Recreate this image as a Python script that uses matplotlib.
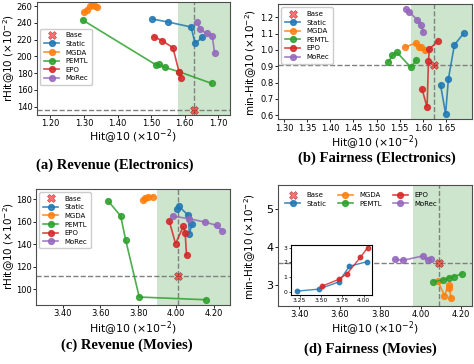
import matplotlib
matplotlib.use("Agg")
import matplotlib.pyplot as plt
from matplotlib.ticker import FormatStrFormatter, FixedLocator

W, H = 474, 364
METHODS = ["Static", "MGDA", "PEMTL", "EPO", "MoRec"]
COLORS = {"Static": "tab:blue", "MGDA": "tab:orange", "PEMTL": "tab:green",
          "EPO": "tab:red", "MoRec": "tab:purple"}

# ---- (a) Revenue (Electronics) ----
A_STATIC_X = [1.504, 1.551, 1.619, 1.631, 1.653]
A_STATIC_Y = [244.5, 240.9, 235.0, 215.5, 222.7]
A_MGDA_X = [1.299, 1.309, 1.319, 1.324, 1.334, 1.339]
A_MGDA_Y = [252.5, 255.3, 260.0, 261.6, 260.4, 259.2]
A_PEMTL_X = [1.296, 1.515, 1.522, 1.541, 1.583, 1.680]
A_PEMTL_Y = [243.3, 189.7, 190.9, 186.9, 181.7, 167.8]
A_EPO_X = [1.508, 1.533, 1.565, 1.583, 1.588]
A_EPO_Y = [223.4, 218.7, 210.3, 181.7, 173.8]
A_MOREC_X = [1.638, 1.646, 1.665, 1.682, 1.689]
A_MOREC_Y = [240.5, 232.2, 227.4, 224.6, 204.4]
A_BASE = (1.628, 136.5)
A_REGION = 1.581

# ---- (b) Fairness (Electronics) ----
B_STATIC_X = [1.638, 1.649, 1.655, 1.668, 1.688]
B_STATIC_Y = [0.787, 0.609, 0.822, 1.030, 1.102]
B_MGDA_X = [1.561, 1.584, 1.591, 1.596, 1.605]
B_MGDA_Y = [1.017, 1.041, 1.020, 1.017, 0.997]
B_PEMTL_X = [1.525, 1.534, 1.544, 1.574, 1.586]
B_PEMTL_Y = [0.924, 0.966, 0.985, 0.893, 0.940]
B_EPO_X = [1.598, 1.609, 1.612, 1.614, 1.633]
B_EPO_Y = [0.761, 0.649, 0.934, 1.005, 1.056]
B_MOREC_X = [1.563, 1.571, 1.588, 1.596, 1.601]
B_MOREC_Y = [1.251, 1.230, 1.184, 1.153, 1.109]
B_BASE = (1.625, 0.905)
B_REGION = 1.574

# ---- (c) Revenue (Movies) ----
C_STATIC_X = [4.004, 4.015, 4.064, 4.070, 4.085]
C_STATIC_Y = [171.7, 173.8, 165.8, 149.5, 158.4]
C_MGDA_X = [3.826, 3.838, 3.850, 3.880]
C_MGDA_Y = [179.5, 181.5, 182.5, 182.5]
C_PEMTL_X = [3.641, 3.707, 3.733, 3.805, 4.158]
C_PEMTL_Y = [178.5, 165.2, 144.1, 93.2, 90.8]
C_EPO_X = [3.964, 3.997, 4.038, 4.048, 4.055]
C_EPO_Y = [160.7, 140.6, 156.0, 150.4, 130.2]
C_MOREC_X = [3.981, 4.068, 4.152, 4.214, 4.244]
C_MOREC_Y = [165.2, 162.8, 159.9, 156.9, 151.9]
C_BASE = (4.008, 111.6)
C_REGION = 3.897

# ---- (d) Fairness (Movies) ----
D_MGDA_X = [4.085, 4.118, 4.138, 4.142, 4.150]
D_MGDA_Y = [3.10, 2.72, 3.00, 2.93, 2.65]
D_PEMTL_X = [4.063, 4.110, 4.142, 4.165, 4.205]
D_PEMTL_Y = [3.09, 3.13, 3.19, 3.22, 3.30]
D_MOREC_X = [3.873, 3.912, 4.011, 4.036, 4.052]
D_MOREC_Y = [3.678, 3.652, 3.767, 3.670, 3.696]
D_BASE = (4.093, 3.58)
D_REGION = 3.963
# inset of (d): Static and EPO sit far below the main range
D_STATIC_X = [3.219, 3.473, 3.707, 3.832, 4.039]
D_STATIC_Y = [0.044, 0.178, 0.667, 1.733, 2.044]
D_EPO_X = [3.512, 3.707, 3.805, 3.961, 4.047]
D_EPO_Y = [0.378, 0.844, 1.222, 2.333, 3.0]

LINE_KW = dict(lw=1.2, ms=4.2, alpha=0.85)


def px_axes(fig, l, r, t, b):
    return fig.add_axes([l / W, 1 - b / H, (r - l) / W, (b - t) / H])


def draw_line(ax, name, x, y):
    ax.plot(x, y, "-o", color=COLORS[name], label=name, **LINE_KW)


def draw_base(ax, base, region):
    ax.axvspan(region, 10, color="green", alpha=0.2, lw=0, zorder=0)
    ax.axvline(base[0], ls="--", color="grey", lw=1.0, zorder=1)
    ax.axhline(base[1], ls="--", color="grey", lw=1.0, zorder=1)
    ax.plot([base[0]], [base[1]], "X", color="red", ms=5.5, alpha=0.55,
            mec="darkred", mew=0.5, ls="none", label="Base", zorder=5)


def style(ax, xlim, ylim, xfmt, yfmt):
    ax.set_xlim(*xlim)
    ax.set_ylim(*ylim)
    ax.xaxis.set_major_formatter(FormatStrFormatter(xfmt))
    ax.yaxis.set_major_formatter(FormatStrFormatter(yfmt))
    ax.tick_params(labelsize=6.0, length=2, width=0.6, pad=1.2)
    for s in ax.spines.values():
        s.set_linewidth(0.8)
        s.set_color("0.3")


def order_legend(ax, **kw):
    h, l = ax.get_legend_handles_labels()
    d = dict(zip(l, h))
    names = ["Base"] + METHODS
    ax.legend([d[n] for n in names], names, fontsize=5.0, handlelength=2.2,
              borderpad=0.5, labelspacing=0.38, handletextpad=0.9,
              framealpha=1.0, **kw)


fig = plt.figure(figsize=(W / 100, H / 100), dpi=100)
xlab = "Hit@10 ($\\times10^{-2}$)"
cap_font = dict(family="Liberation Serif", fontweight="bold", fontsize=10.5,
                ha="center", va="center")
lab_font = dict(fontsize=7.8, ha="center", va="center")
ylab_font = dict(fontsize=7.5, ha="center", va="center", rotation=90)

# (a)
ax = px_axes(fig, 37, 230, 1.5, 115)
draw_base(ax, A_BASE, A_REGION)
draw_line(ax, "Static", A_STATIC_X, A_STATIC_Y)
draw_line(ax, "MGDA", A_MGDA_X, A_MGDA_Y)
draw_line(ax, "PEMTL", A_PEMTL_X, A_PEMTL_Y)
draw_line(ax, "EPO", A_EPO_X, A_EPO_Y)
draw_line(ax, "MoRec", A_MOREC_X, A_MOREC_Y)
style(ax, (1.160, 1.735), (130.1, 265.4), "%.2f", "%d")
ax.xaxis.set_major_locator(FixedLocator([1.2, 1.3, 1.4, 1.5, 1.6, 1.7]))
ax.yaxis.set_major_locator(FixedLocator([140, 160, 180, 200, 220, 240, 260]))
order_legend(ax, loc="upper left", bbox_to_anchor=(0.0, 0.79))
fig.text(133 / W, 1 - 137 / H, xlab, **lab_font)
fig.text(9 / W, 1 - 58 / H, "rHit@10 ($\\times10^{-2}$)", **ylab_font)
fig.text(115 / W, 1 - 165 / H, "(a) Revenue (Electronics)", **cap_font)

# (b)
ax = px_axes(fig, 278, 472, 4, 119.5)
draw_base(ax, B_BASE, B_REGION)
draw_line(ax, "Static", B_STATIC_X, B_STATIC_Y)
draw_line(ax, "MGDA", B_MGDA_X, B_MGDA_Y)
draw_line(ax, "PEMTL", B_PEMTL_X, B_PEMTL_Y)
draw_line(ax, "EPO", B_EPO_X, B_EPO_Y)
draw_line(ax, "MoRec", B_MOREC_X, B_MOREC_Y)
style(ax, (1.287, 1.706), (0.574, 1.281), "%.2f", "%.1f")
ax.xaxis.set_major_locator(FixedLocator([1.30, 1.35, 1.40, 1.45, 1.50, 1.55, 1.60, 1.65]))
ax.yaxis.set_major_locator(FixedLocator([0.6, 0.7, 0.8, 0.9, 1.0, 1.1, 1.2]))
order_legend(ax, loc="upper left")
fig.text(375 / W, 1 - 143 / H, xlab, **lab_font)
fig.text(251 / W, 1 - 62 / H, "min-Hit@10 ($\\times10^{-2}$)", **ylab_font)
fig.text(377 / W, 1 - 158 / H, "(b) Fairness (Electronics)", **cap_font)

# (c)
ax = px_axes(fig, 36, 230, 188.7, 304.7)
draw_base(ax, C_BASE, C_REGION)
draw_line(ax, "Static", C_STATIC_X, C_STATIC_Y)
draw_line(ax, "MGDA", C_MGDA_X, C_MGDA_Y)
draw_line(ax, "PEMTL", C_PEMTL_X, C_PEMTL_Y)
draw_line(ax, "EPO", C_EPO_X, C_EPO_Y)
draw_line(ax, "MoRec", C_MOREC_X, C_MOREC_Y)
style(ax, (3.259, 4.285), (86.4, 189.5), "%.2f", "%d")
ax.xaxis.set_major_locator(FixedLocator([3.4, 3.6, 3.8, 4.0, 4.2]))
ax.yaxis.set_major_locator(FixedLocator([100, 120, 140, 160, 180]))
order_legend(ax, loc="upper left")
fig.text(133 / W, 1 - 329 / H, xlab, **lab_font)
fig.text(9 / W, 1 - 246 / H, "rHit@10 ($\\times10^{-2}$)", **ylab_font)
fig.text(127 / W, 1 - 345 / H, "(c) Revenue (Movies)", **cap_font)

# (d)
ax = px_axes(fig, 278, 472, 185.3, 306)
draw_base(ax, D_BASE, D_REGION)
ax.plot([], [], "-o", color=COLORS["Static"], label="Static", **LINE_KW)
draw_line(ax, "MGDA", D_MGDA_X, D_MGDA_Y)
draw_line(ax, "PEMTL", D_PEMTL_X, D_PEMTL_Y)
ax.plot([], [], "-o", color=COLORS["EPO"], label="EPO", **LINE_KW)
draw_line(ax, "MoRec", D_MOREC_X, D_MOREC_Y)
style(ax, (3.295, 4.254), (2.445, 5.634), "%.2f", "%d")
ax.xaxis.set_major_locator(FixedLocator([3.4, 3.6, 3.8, 4.0, 4.2]))
ax.yaxis.set_major_locator(FixedLocator([3, 4, 5]))
ax.tick_params(axis="y", labelsize=8)
order_legend(ax, loc="upper left", ncol=3, columnspacing=1.6, frameon=False)
fig.text(375 / W, 1 - 329 / H, xlab, **lab_font)
fig.text(250 / W, 1 - 246 / H, "min-Hit@10 ($\\times10^{-2}$)", **ylab_font)
fig.text(370 / W, 1 - 349 / H, "(d) Fairness (Movies)", **cap_font)

ins = px_axes(fig, 291, 372, 245, 295)
ins.plot(D_STATIC_X, D_STATIC_Y, "-o", color=COLORS["Static"], lw=1.0, ms=3.2, alpha=0.85)
ins.plot(D_EPO_X, D_EPO_Y, "-o", color=COLORS["EPO"], lw=1.0, ms=3.2, alpha=0.85)
ins.set_xlim(3.148, 4.098)
ins.set_ylim(-0.22, 3.18)
ins.xaxis.set_major_locator(FixedLocator([3.25, 3.50, 3.75, 4.00]))
ins.yaxis.set_major_locator(FixedLocator([0, 1, 2, 3]))
ins.xaxis.set_major_formatter(FormatStrFormatter("%.2f"))
ins.tick_params(labelsize=4.3, length=1.5, width=0.5, pad=1)

fig.savefig("out.png", dpi=100)
